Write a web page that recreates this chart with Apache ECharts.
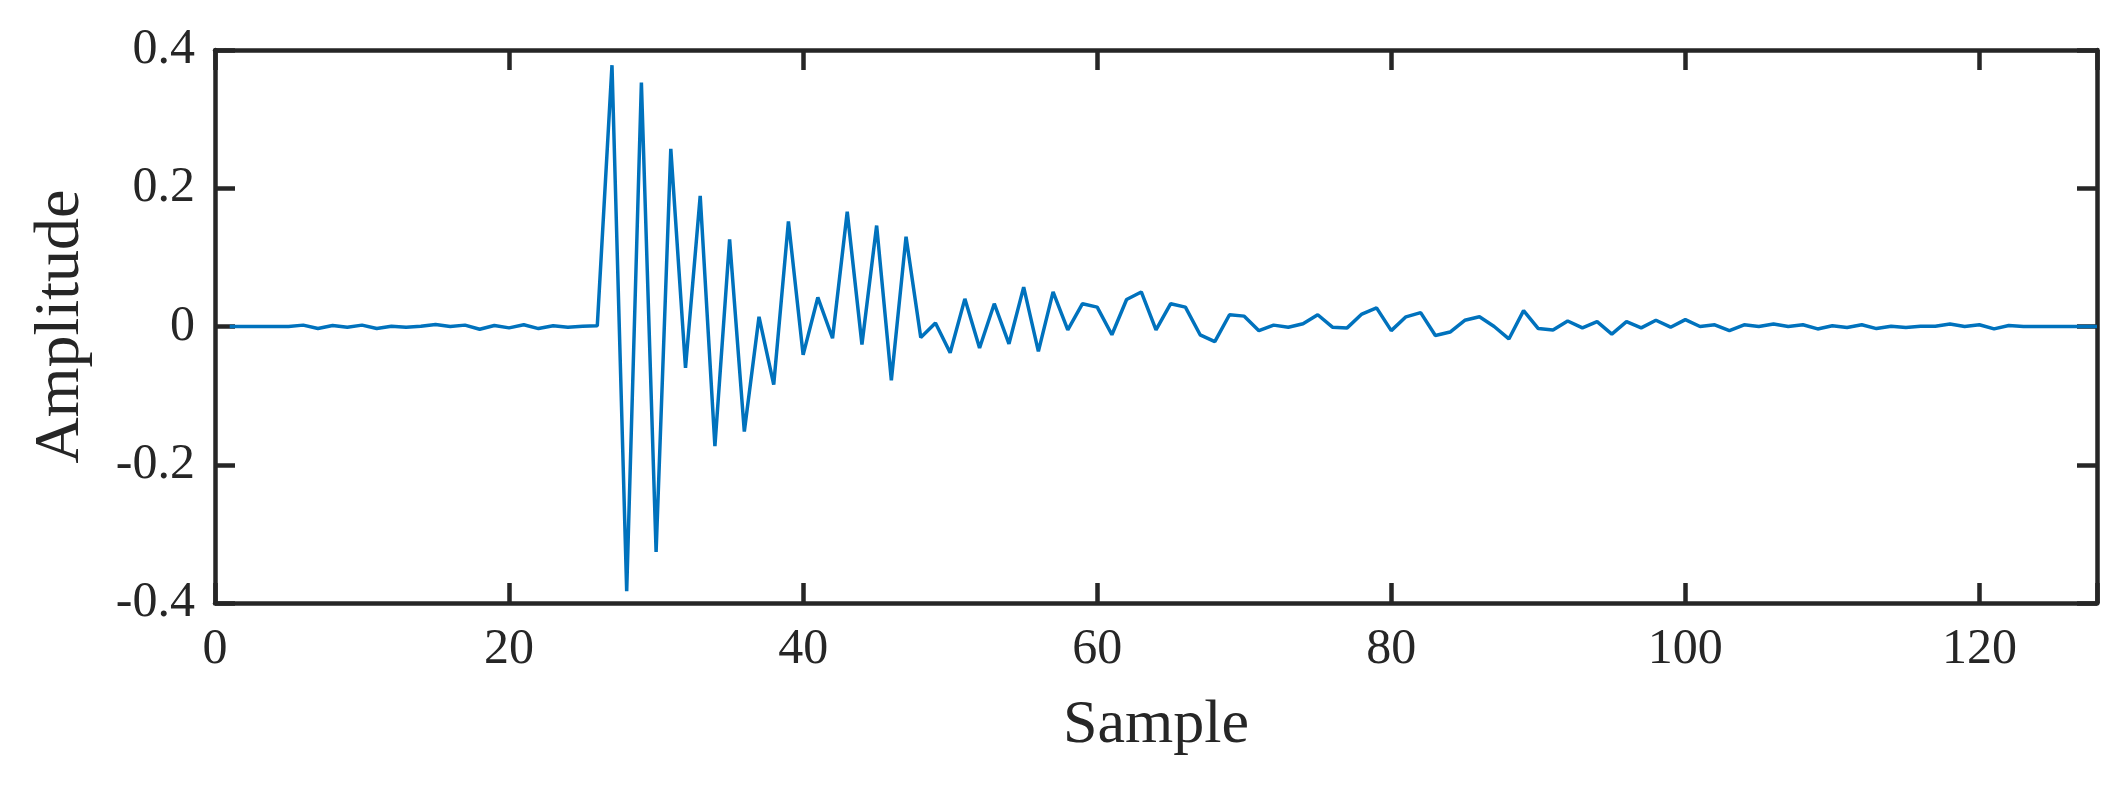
<!DOCTYPE html>
<html>
<head>
<meta charset="utf-8">
<script src="https://cdn.jsdelivr.net/npm/echarts@6/dist/echarts.min.js"></script>
<style>
html,body{margin:0;padding:0;background:#fff;}
#chart{width:2123px;height:785px;}
</style>
</head>
<body>
<div id="chart"></div>
<script>
// Sample indices 1..128
const samples = [];
for (let i = 1; i <= 128; i++) samples.push(i);

const amplitude = [
  0, 0, 0, 0, 0, 0.002, -0.003, 0.0015, -0.001, 0.002,
  -0.003, 0.0005, -0.001, 0.0005, 0.003, 0, 0.002, -0.004, 0.0015, -0.002,
  0.0025, -0.003, 0.001, -0.001, 0.0005, 0.001, 0.378, -0.383, 0.353, -0.326,
  0.257, -0.060, 0.189, -0.173, 0.126, -0.152, 0.014, -0.084, 0.152, -0.041,
  0.042, -0.017, 0.166, -0.026, 0.146, -0.078, 0.130, -0.016, 0.005, -0.038,
  0.040, -0.031, 0.033, -0.025, 0.057, -0.036, 0.050, -0.005, 0.033, 0.028,
  -0.012, 0.039, 0.050, -0.005, 0.033, 0.028, -0.012, -0.022, 0.017, 0.015,
  -0.006, 0.002, -0.001, 0.004, 0.017, -0.001, -0.002, 0.018, 0.027, -0.006,
  0.014, 0.020, -0.013, -0.008, 0.009, 0.014, 0.000, -0.018, 0.023, -0.003,
  -0.005, 0.008, -0.002, 0.007, -0.011, 0.007, -0.002, 0.009, -0.001, 0.010,
  0.000, 0.0025, -0.006, 0.0025, 0.000, 0.0035, 0.000, 0.0025, -0.0035, 0.001,
  -0.0015, 0.0025, -0.003, 0.0005, -0.0015, 0.0005, 0.0005, 0.0035, 0.000, 0.0025,
  -0.0035, 0.0015, 0, 0, 0, 0, 0, 0
];

const xTickLabels = [0, 20, 40, 60, 80, 100, 120];
const yTickLabels = [-0.4, -0.2, 0, 0.2, 0.4];

const FONT = '"Liberation Serif", "Times New Roman", serif';
const INK = '#262626';

const seriesData = samples.map((s, i) => [s, amplitude[i]]);

const lineAx = { show: true, onZero: false, lineStyle: { color: INK, width: 4.5 } };
const tickAx = { show: true, inside: true, length: 20, lineStyle: { color: INK, width: 4.5 } };

const chart = echarts.init(document.getElementById('chart'), null, { renderer: 'canvas' });
chart.setOption({
  animation: false,
  backgroundColor: '#ffffff',
  grid: { left: 215, right: 26, top: 50, bottom: 182, containLabel: false },
  xAxis: [
    {
      type: 'value', position: 'bottom', min: 0, max: 128, interval: 20,
      axisLine: lineAx, axisTick: tickAx, splitLine: { show: false },
      axisLabel: {
        fontSize: 50, fontFamily: FONT, color: INK, margin: 22,
        formatter: v => (xTickLabels.indexOf(v) >= 0 ? String(v) : '')
      },
      name: 'Sample', nameLocation: 'middle', nameGap: 92,
      nameTextStyle: { fontSize: 62, fontFamily: FONT, color: INK }
    },
    {
      type: 'value', position: 'top', min: 0, max: 128, interval: 20,
      axisLine: lineAx, axisTick: tickAx, splitLine: { show: false },
      axisLabel: { show: false }
    }
  ],
  yAxis: [
    {
      type: 'value', position: 'left', min: -0.4, max: 0.4, interval: 0.2,
      axisLine: lineAx, axisTick: tickAx, splitLine: { show: false },
      axisLabel: {
        fontSize: 50, fontFamily: FONT, color: INK, margin: 20,
        formatter: v => {
          const r = Math.round(v * 10) / 10;
          return yTickLabels.indexOf(r) >= 0 ? String(r) : '';
        }
      },
      name: 'Amplitude', nameLocation: 'middle', nameGap: 122, nameRotate: 90,
      nameTextStyle: { fontSize: 64, fontFamily: FONT, color: INK }
    },
    {
      type: 'value', position: 'right', min: -0.4, max: 0.4, interval: 0.2,
      axisLine: lineAx, axisTick: tickAx, splitLine: { show: false },
      axisLabel: { show: false }
    }
  ],
  series: [
    {
      type: 'line', xAxisIndex: 0, yAxisIndex: 0,
      data: seriesData, showSymbol: false, symbol: 'none',
      lineStyle: { color: '#0072BD', width: 3.5 },
      emphasis: { disabled: true }
    }
  ]
});
</script>
</body>
</html>
